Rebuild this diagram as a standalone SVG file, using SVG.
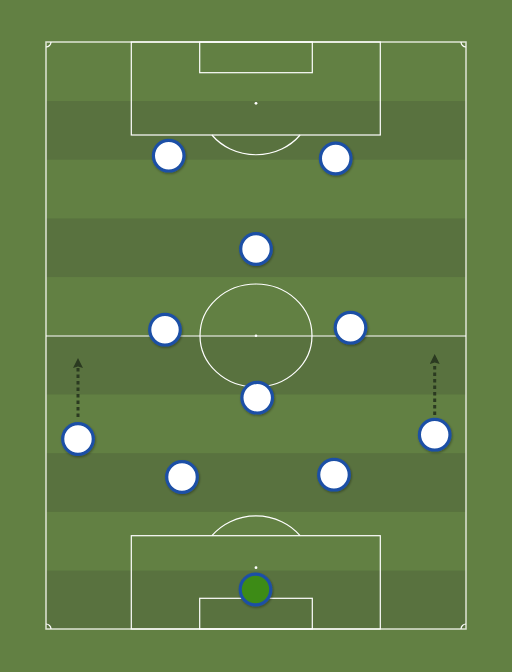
<svg xmlns="http://www.w3.org/2000/svg" width="512" height="672" viewBox="0 0 512 672">
<style>
.ln{fill:none;stroke:#ffffff;stroke-width:1.2}
.out{fill:none;stroke:#dfe5d6;stroke-width:1.5}
.dk{fill:#59723f}
.pl{fill:#ffffff;stroke:#1c50a6;stroke-width:3.2;filter:url(#sh)}
.gk{fill:#3e8b18;stroke:#1c50a6;stroke-width:3.2;filter:url(#sh)}
.mv{fill:none;stroke:#2b3a21;stroke-width:3;stroke-dasharray:3.5 3;marker-end:url(#ah)}
</style>
<defs>
<filter id="sh" x="-30%" y="-30%" width="160%" height="160%">
<feDropShadow dx="0.8" dy="1.2" stdDeviation="0.9" flood-color="#000" flood-opacity="0.35"/>
</filter>
<marker id="ah" viewBox="0 0 10 10" refX="1" refY="5" markerWidth="10" markerHeight="10" markerUnits="userSpaceOnUse" orient="auto">
<path d="M0,0 L10,5 L0,10 L1.5,5 Z" fill="#2b3a21"/>
</marker>
</defs>
<g id="pitch">
<rect x="0" y="0" width="512" height="672" fill="#628043"/>
<rect class="dk" x="46" y="101" width="420" height="58.7"/>
<rect class="dk" x="46" y="218.4" width="420" height="58.7"/>
<rect class="dk" x="46" y="335.8" width="420" height="58.7"/>
<rect class="dk" x="46" y="453.2" width="420" height="58.7"/>
<rect class="dk" x="46" y="570.6" width="420" height="58.4"/>
<rect class="out" x="46" y="42" width="420" height="587"/>
<line class="ln" x1="46" y1="336" x2="466" y2="336"/>
<ellipse class="ln" cx="256" cy="335.5" rx="56" ry="51.5"/>
<circle cx="256" cy="335.8" r="1.3" fill="#fff"/>
<rect class="ln" x="131.3" y="42" width="249" height="93"/>
<rect class="ln" x="199.7" y="42" width="112.6" height="30.7"/>
<circle cx="256" cy="103.3" r="1.4" fill="#fff"/>
<path class="ln" d="M211.9,135 A56,51.5 0 0 0 300.1,135"/>
<rect class="ln" x="131.3" y="535.7" width="249" height="93.3"/>
<rect class="ln" x="199.7" y="598.3" width="112.6" height="30.7"/>
<circle cx="256" cy="567.7" r="1.4" fill="#fff"/>
<path class="ln" d="M211.9,535.7 A56,51.5 0 0 1 300.1,535.7"/>
<path class="ln" d="M46,47 A5,5 0 0 0 51,42"/>
<path class="ln" d="M461,42 A5,5 0 0 0 466,47"/>
<path class="ln" d="M46,624 A5,5 0 0 1 51,629"/>
<path class="ln" d="M461,629 A5,5 0 0 1 466,624"/>
</g>
<g id="connectors">
<line class="mv" x1="78" y1="417" x2="78" y2="367"/>
<line class="mv" x1="434.7" y1="415" x2="434.7" y2="363"/>
</g>
<g id="p1"><circle class="pl" cx="168.7" cy="155.7" r="15.3"/></g>
<g id="p2"><circle class="pl" cx="335.7" cy="158.5" r="15.3"/></g>
<g id="p3"><circle class="pl" cx="256" cy="249" r="15.3"/></g>
<g id="p4"><circle class="pl" cx="165" cy="329.7" r="15.3"/></g>
<g id="p5"><circle class="pl" cx="350.5" cy="327.7" r="15.3"/></g>
<g id="p6"><circle class="pl" cx="257.2" cy="397.7" r="15.3"/></g>
<g id="p7"><circle class="pl" cx="78" cy="439" r="15.3"/></g>
<g id="p8"><circle class="pl" cx="434.7" cy="434.7" r="15.3"/></g>
<g id="p9"><circle class="pl" cx="182" cy="477" r="15.3"/></g>
<g id="p10"><circle class="pl" cx="334" cy="474.7" r="15.3"/></g>
<g id="gk"><circle class="gk" cx="255.5" cy="589.5" r="15.3"/></g>
</svg>
